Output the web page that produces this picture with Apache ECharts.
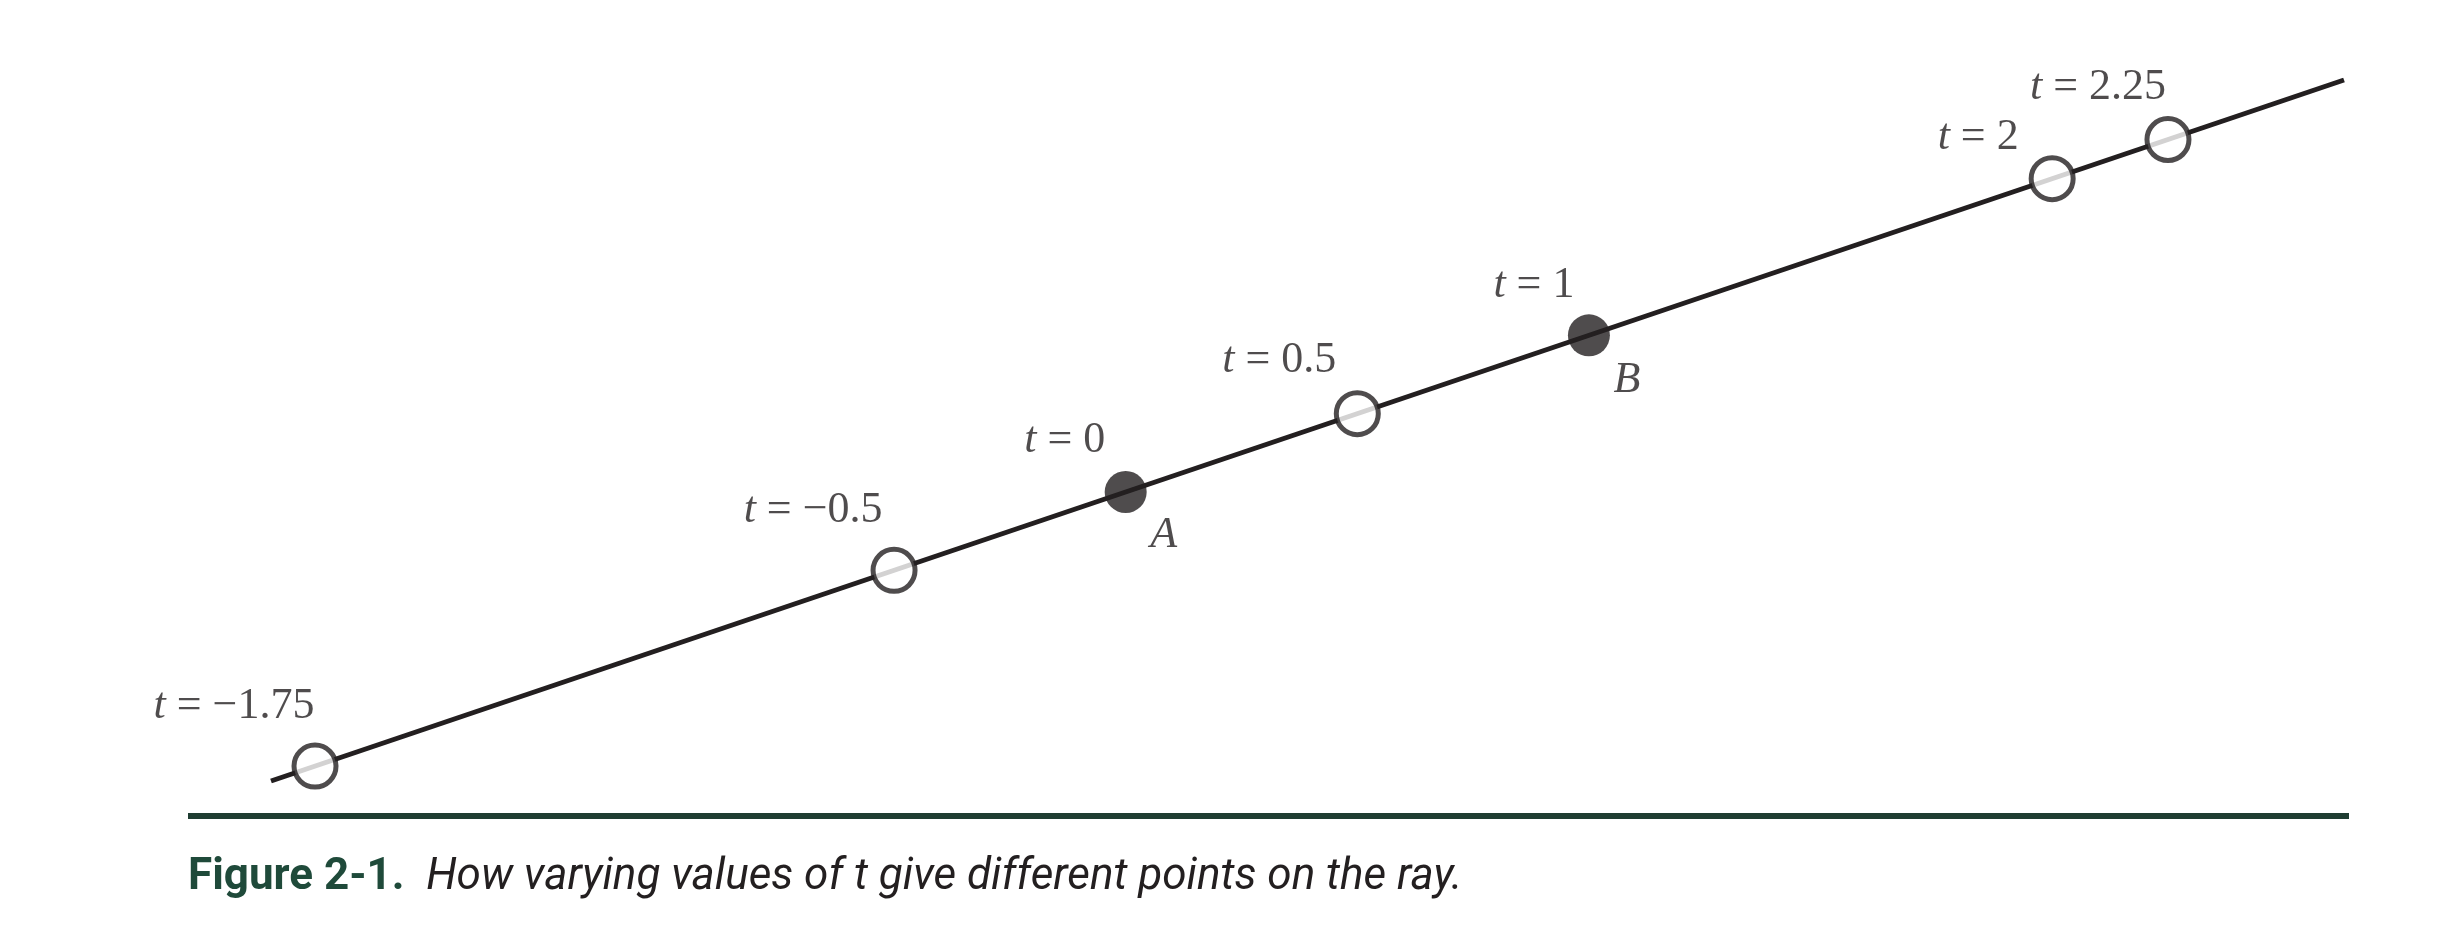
<!DOCTYPE html>
<html><head><meta charset="utf-8">
<script src="https://cdn.jsdelivr.net/npm/echarts@6/dist/echarts.min.js"></script>
<style>html,body{margin:0;background:#fff}#c{width:2456px;height:944px}</style></head>
<body><div id="c"></div>
<script>
const rayRange = [-1.845, 2.63];
const openT = [-1.75, -0.5, 0.5, 2, 2.25];
const filledT = [0, 1];
const labelT = [-1.75, -0.5, 0, 0.5, 1, 2, 2.25];
const labelText = ['t = −1.75', 't = −0.5', 't = 0', 't = 0.5', 't = 1', 't = 2', 't = 2.25'];
const pointNames = ['A', 'B'];
const labelOffsets = [[-81,-60],[-81,-60],[-61,-52],[-78,-53],[-55,-50],[-74,-41],[-70,-52]];
const nameOffsets = [[38,43],[38,45]];
const ink = '#231f20';
const serif = {fontFamily:'Liberation Serif', fontSize:44, color:ink};

function tLabel(s){
  const parts = s.split(' = ');
  return '{i|' + parts[0] + '}{n| = ' + parts[1] + '}';
}
const chart = echarts.init(document.getElementById('c'));
chart.setOption({
  animation:false,
  grid:{left:271, right:2456-2344, top:80, bottom:163},
  xAxis:{type:'value', min:rayRange[0], max:rayRange[1], show:false},
  yAxis:{type:'value', min:rayRange[0], max:rayRange[1], show:false},
  series:[
    {type:'line', data:rayRange.map(t=>[t,t]), symbol:'none', lineStyle:{color:ink,width:5}, z:1},
    {type:'scatter', data:openT.map(t=>[t,t]), symbol:'circle', symbolSize:42,
     itemStyle:{color:'#fff', borderColor:ink, borderWidth:5}, z:3},
    {type:'scatter', data:filledT.map(t=>[t,t]), symbol:'circle', symbolSize:42,
     itemStyle:{color:ink}, z:3},
    {type:'scatter', symbolSize:0, z:4,
     data:labelT.map((t,i)=>({value:[t,t], label:{show:true, formatter:tLabel(labelText[i]), offset:labelOffsets[i], position:'inside',
       rich:{i:Object.assign({fontStyle:'italic'},serif), n:serif}}}))},
    {type:'scatter', symbolSize:0, z:4,
     data:filledT.map((t,i)=>({value:[t,t], label:{show:true, formatter:pointNames[i], offset:nameOffsets[i], position:'inside',
       fontStyle:'italic', fontFamily:'Liberation Serif', fontSize:44, color:ink}}))}
  ],
  graphic:[
    {type:'rect', shape:{x:188, y:813, width:2161, height:6}, style:{fill:'#1f3d32'}},
    {type:'text', x:188, y:878, style:{text:'{b|Figure 2-1.}{i|  How varying values of t give different points on the ray.}',
      verticalAlign:'middle',
      rich:{b:{fontFamily:'Roboto', fontWeight:'bold', fontSize:44, fill:'#1f4a3a'},
            i:{fontFamily:'Roboto', fontStyle:'italic', fontSize:44, fill:'#231f20'}}}}
  ]
});
</script></body></html>
